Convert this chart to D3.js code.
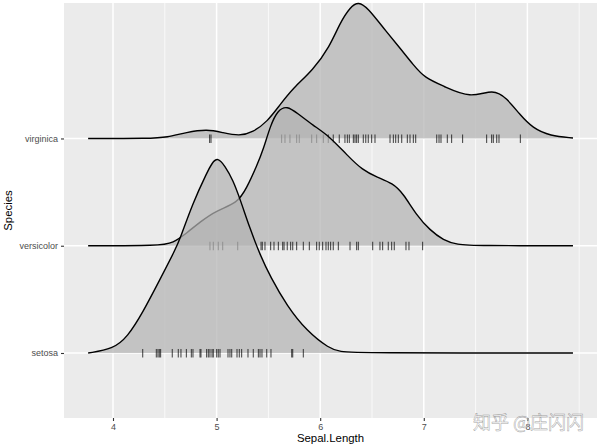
<!DOCTYPE html>
<html>
<head>
<meta charset="utf-8">
<script src="https://cdn.jsdelivr.net/npm/d3@7"></script>
<style>
    html, body { margin: 0; padding: 0; background: #fff; }
    svg { display: block; font-family: "Liberation Sans", Arial, sans-serif; }
</style>
</head>
<body>
<div id="chart"></div>
<script>
// Species, bottom to top
const species = ['setosa', 'versicolor', 'virginica'];
const xTicks = [4, 5, 6, 7, 8];
const xMinorTicks = [3.5, 4.5, 5.5, 6.5, 7.5, 8.5];

// Ridge outlines: sepal length and ridge height in y units
const setosaX = [3.76, 4.0, 4.14, 4.29, 4.45, 4.6, 4.65, 4.77, 4.91, 4.956, 5.01, 5.081, 5.158, 5.23, 5.32, 5.42, 5.52, 5.68, 5.87, 6.09, 6.19, 6.36, 8.44];
const setosaH = [0, 0.037, 0.149, 0.382, 0.68, 0.96, 1.072, 1.398, 1.688, 1.772, 1.825, 1.744, 1.613, 1.426, 1.165, 0.914, 0.709, 0.438, 0.205, 0.04, 0.012, 0, 0];

const versicolorX = [3.76, 4.45, 4.58, 4.71, 4.84, 5.0, 5.2, 5.29, 5.39, 5.45, 5.52, 5.59, 5.68, 5.78, 5.93, 6.09, 6.26, 6.41, 6.55, 6.7, 6.8, 6.93, 7.06, 7.19, 7.32, 7.51, 8.44];
const versicolorH = [0, 0, 0.026, 0.117, 0.222, 0.331, 0.396, 0.536, 0.75, 0.894, 1.123, 1.263, 1.305, 1.235, 1.123, 1.02, 0.843, 0.704, 0.638, 0.582, 0.489, 0.284, 0.145, 0.051, 0.01, 0, 0];

const virginicaX = [3.76, 4.36, 4.52, 4.71, 4.91, 5.06, 5.22, 5.35, 5.49, 5.61, 5.74, 5.93, 6.09, 6.19, 6.29, 6.37, 6.46, 6.61, 6.77, 6.9, 7.01, 7.19, 7.45, 7.67, 7.8, 7.93, 8.05, 8.22, 8.44];
const virginicaH = [0, 0, 0.01, 0.058, 0.086, 0.054, 0.022, 0.058, 0.157, 0.312, 0.471, 0.638, 0.853, 1.076, 1.226, 1.277, 1.216, 1.03, 0.843, 0.685, 0.564, 0.489, 0.373, 0.462, 0.377, 0.219, 0.098, 0.023, 0.005];

// Rug ticks
const setosaRug = [4.287, 4.418, 4.434, 4.447, 4.46, 4.572, 4.63, 4.656, 4.708, 4.756, 4.772, 4.84, 4.849, 4.904, 4.92, 4.936, 4.956, 4.968, 5.001, 5.016, 5.033, 5.11, 5.129, 5.146, 5.197, 5.219, 5.242, 5.303, 5.354, 5.403, 5.419, 5.438, 5.484, 5.525, 5.725, 5.735, 5.837];
const versicolorRug = [4.936, 4.968, 5.016, 5.059, 5.204, 5.429, 5.441, 5.467, 5.522, 5.554, 5.596, 5.638, 5.651, 5.682, 5.715, 5.735, 5.773, 5.837, 5.895, 5.966, 5.991, 6.024, 6.056, 6.078, 6.101, 6.126, 6.175, 6.288, 6.352, 6.368, 6.507, 6.577, 6.603, 6.657, 6.69, 6.715, 6.828, 6.857, 6.989];
const virginicaRug = [4.933, 4.946, 5.628, 5.66, 5.708, 5.773, 5.798, 5.918, 5.966, 6.03, 6.078, 6.126, 6.184, 6.239, 6.262, 6.281, 6.32, 6.336, 6.352, 6.368, 6.416, 6.44, 6.464, 6.497, 6.529, 6.674, 6.706, 6.729, 6.754, 6.787, 6.841, 6.867, 6.899, 6.922, 7.125, 7.147, 7.166, 7.227, 7.269, 7.375, 7.607, 7.655, 7.671, 7.704, 7.726, 7.932];

const width = 600;
const height = 447;
const panel = { left: 64, right: 597, top: 3, bottom: 418 };

const svg = d3.select('#chart').append('svg')
    .attr('width', width)
    .attr('height', height);

// 4 sits at 113px and 8 at 527.5px, the species are 107.25px apart
const x = d3.scaleLinear().domain([3.527, 8.672]).range([panel.left, panel.right]);
const y = d3.scaleLinear().domain([0.394, 4.263]).range([panel.bottom, panel.top]);

// Panel and grid
svg.append('rect')
    .attr('x', panel.left)
    .attr('y', panel.top)
    .attr('width', panel.right - panel.left)
    .attr('height', panel.bottom - panel.top)
    .attr('fill', '#ebebeb');

const grid = svg.append('g').attr('stroke', '#fff').attr('fill', 'none');

grid.selectAll('.minor').data(xMinorTicks).enter().append('line')
    .attr('class', 'minor')
    .attr('x1', d => x(d)).attr('x2', d => x(d))
    .attr('y1', panel.top).attr('y2', panel.bottom)
    .attr('stroke-width', 0.7);

grid.selectAll('.major').data(xTicks).enter().append('line')
    .attr('class', 'major')
    .attr('x1', d => x(d)).attr('x2', d => x(d))
    .attr('y1', panel.top).attr('y2', panel.bottom)
    .attr('stroke-width', 1.5);

grid.selectAll('.row').data(species).enter().append('line')
    .attr('class', 'row')
    .attr('x1', panel.left).attr('x2', panel.right)
    .attr('y1', (d, i) => y(i + 1)).attr('y2', (d, i) => y(i + 1))
    .attr('stroke-width', 1.5);

// Ridges, drawn back to front
const ridges = [
    { row: 3, xs: virginicaX, hs: virginicaH, rug: virginicaRug },
    { row: 2, xs: versicolorX, hs: versicolorH, rug: versicolorRug },
    { row: 1, xs: setosaX, hs: setosaH, rug: setosaRug }
];

ridges.forEach(ridge => {
    const points = ridge.xs.map((v, i) => [v, ridge.hs[i]]);
    const g = svg.append('g');

    const area = d3.area()
        .x(d => x(d[0]))
        .y0(y(ridge.row))
        .y1(d => y(ridge.row + d[1]))
        .curve(d3.curveBasis);

    const line = d3.line()
        .x(d => x(d[0]))
        .y(d => y(ridge.row + d[1]))
        .curve(d3.curveBasis);

    g.append('path')
        .attr('d', area(points))
        .attr('fill', '#b3b3b3')
        .attr('fill-opacity', 0.72);

    g.selectAll('line').data(ridge.rug).enter().append('line')
        .attr('x1', d => x(d)).attr('x2', d => x(d))
        .attr('y1', y(ridge.row) - 4)
        .attr('y2', y(ridge.row) + 4.5)
        .attr('stroke', '#000')
        .attr('stroke-opacity', 0.75)
        .attr('stroke-width', 1);

    g.append('path')
        .attr('d', line(points))
        .attr('fill', 'none')
        .attr('stroke', '#000')
        .attr('stroke-width', 1.4);
});

// Axes
const xAxis = svg.append('g')
    .attr('transform', `translate(0,${panel.bottom})`)
    .call(d3.axisBottom(x).tickValues(xTicks).tickSize(3).tickPadding(3).tickFormat(d3.format('d')));

const yAxis = svg.append('g')
    .attr('transform', `translate(${panel.left},0)`)
    .call(d3.axisLeft(y).tickValues([1, 2, 3]).tickSize(3).tickPadding(3).tickFormat(d => species[d - 1]));

[xAxis, yAxis].forEach(axis => {
    axis.select('.domain').remove();
    axis.selectAll('.tick line').attr('stroke', '#333').attr('stroke-width', 1.1);
    axis.selectAll('.tick text')
        .attr('fill', '#4d4d4d')
        .style('font-size', '9px')
        .style('font-family', '"Liberation Sans", Arial, sans-serif');
});

svg.append('text')
    .attr('x', (panel.left + panel.right) / 2)
    .attr('y', 442)
    .attr('text-anchor', 'middle')
    .attr('font-size', 11.4)
    .attr('fill', '#000')
    .text('Sepal.Length');

svg.append('text')
    .attr('transform', `translate(12,${(panel.top + panel.bottom) / 2}) rotate(-90)`)
    .attr('text-anchor', 'middle')
    .attr('font-size', 11.4)
    .attr('fill', '#000')
    .text('Species');

// Watermark
svg.append('text')
    .attr('x', 473)
    .attr('y', 429)
    .attr('font-family', '"Noto Sans CJK SC", sans-serif')
    .attr('font-size', 18)
    .attr('fill', '#fff')
    .attr('fill-opacity', 0.5)
    .attr('stroke', '#777')
    .attr('stroke-opacity', 0.7)
    .attr('stroke-width', 0.5)
    .text('知乎 @庄闪闪');
</script>
</body>
</html>
